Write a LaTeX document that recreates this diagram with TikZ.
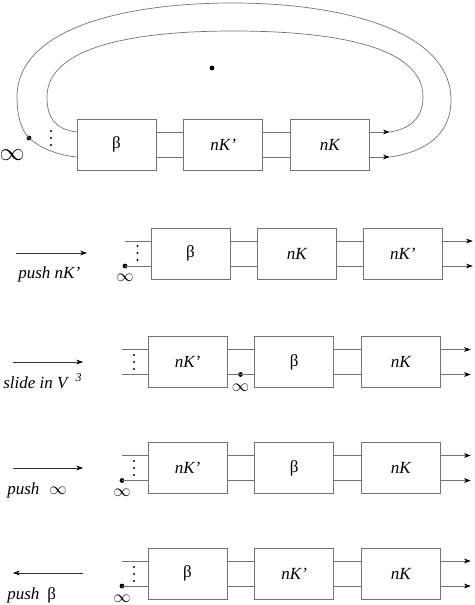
\documentclass[tikz,border=0pt]{standalone}
\usepackage{fontspec}
\setmainfont{Liberation Serif}
\usetikzlibrary{arrows.meta,positioning}

\begin{document}
\begin{tikzpicture}[
  x=1pt,y=-1pt,
  font=\fontsize{17}{20}\selectfont,
  line width=0.7pt,
  >={Stealth[length=2.4mm,width=1.7mm,color=black]},
  blk/.style={draw=black!55,minimum width=79pt,minimum height=51pt,inner sep=0pt},
  wire/.style={draw=black!55},
  act/.style={->,draw=black!80},
  pin/.style={circle,fill=black,inner sep=0pt,minimum size=4.8pt},
  tick/.style={circle,fill=black,inner sep=0pt,minimum size=2.2pt},
  inf/.style={inner sep=0pt,font=\fontsize{17}{17}\selectfont},
  lbl/.style={anchor=base west,inner sep=0pt,font=\fontsize{17}{20}\selectfont\itshape}
]
\useasboundingbox (0,0) rectangle (474,605);

% ===== Closed braid =====
\node[blk] (b0) at (116.5,144.5) {β};
\node[blk,right=27pt of b0] (kp0) {\itshape nK'};
\node[blk,right=27pt of kp0] (k0) {\itshape nK};
\node[pin] (p0) at (29,138) {};
\node[pin] (c0) at (212,68) {};
\node[inf,font=\fontsize{24}{24}\selectfont] (i0) at (12,155) {$\infty$};
\foreach \y in {131,138,145} \node[tick] (v0-\y) at (51,\y) {};

\draw[wire] ([yshift=12.5pt]b0.east) -- ([yshift=12.5pt]kp0.west);
\draw[wire] ([yshift=-12.5pt]b0.east) -- ([yshift=-12.5pt]kp0.west);
\draw[wire] ([yshift=12.5pt]kp0.east) -- ([yshift=12.5pt]k0.west);
\draw[wire] ([yshift=-12.5pt]kp0.east) -- ([yshift=-12.5pt]k0.west);
\draw[wire,->] ([yshift=12.5pt]k0.east) -- ++(20,0) coordinate (ti);
\draw[wire,->] ([yshift=-12.5pt]k0.east) -- ++(20,0) coordinate (to);

% inner strand
\draw[wire] (ti) .. controls (410,129) and (423,118) .. (423,97)
  .. controls (423,45) and (330,31) .. (233,31)
  .. controls (140,31) and (47,45) .. (47,97)
  .. controls (47,118) and (55,129) .. ([yshift=12.5pt]b0.west);
% outer strand
\draw[wire] (to) .. controls (425,152) and (451,135) .. (451,100)
  .. controls (451,30) and (340,3) .. (233,3)
  .. controls (120,3) and (17,30) .. (17,97)
  .. controls (17,115) and (21,130) .. (p0.center)
  .. controls (40,148) and (57,155) .. ([yshift=-12.5pt]b0.west);

% ===== push nK' =====
\coordinate (a2s) at (16,253);
\coordinate (a2e) at (87,253);
\draw[act] (a2s) -- (a2e);
\node[lbl] (l2) at (18,278) {push nK'};

\node[blk] (b2) at (190.5,253.5) {β};
\node[blk,right=26.5pt of b2] (k2) {\itshape nK};
\node[blk,right=26.5pt of k2] (kp2) {\itshape nK'};
\coordinate (s2) at (125,241);
\node[pin] (p2) at (125,266) {};
\node[inf] (i2) at (125,278) {$\infty$};
\foreach \y in {246,253,260} \node[tick] (v2-\y) at (137.5,\y) {};

\draw[wire] (s2) -- ([yshift=12.5pt]b2.west);
\draw[wire] (p2.center) -- ([yshift=-12.5pt]b2.west);
\draw[wire] ([yshift=12.5pt]b2.east) -- ([yshift=12.5pt]k2.west);
\draw[wire] ([yshift=-12.5pt]b2.east) -- ([yshift=-12.5pt]k2.west);
\draw[wire] ([yshift=12.5pt]k2.east) -- ([yshift=12.5pt]kp2.west);
\draw[wire] ([yshift=-12.5pt]k2.east) -- ([yshift=-12.5pt]kp2.west);
\draw[wire,->] ([yshift=12.5pt]kp2.east) -- ++(30,0);
\draw[wire,->] ([yshift=-12.5pt]kp2.east) -- ++(30,0);

% ===== slide in V^3 =====
\coordinate (a3s) at (13,362);
\coordinate (a3e) at (83,362);
\draw[act] (a3s) -- (a3e);
\node[lbl] (l3) at (3,388) {slide in V\hspace{8pt}\textsuperscript{3}};

\node[blk] (kp3) at (187.5,362) {\itshape nK'};
\node[blk,right=27pt of kp3] (b3) {β};
\node[blk,right=27pt of b3] (k3) {\itshape nK};
\coordinate (s3t) at (122,349.5);
\coordinate (s3b) at (122,374.5);
\node[pin] (p3) at (240.5,374.5) {};
\node[inf] (i3) at (240.5,388) {$\infty$};
\foreach \y in {355,362,369} \node[tick] (v3-\y) at (134,\y) {};

\draw[wire] (s3t) -- ([yshift=12.5pt]kp3.west);
\draw[wire] (s3b) -- ([yshift=-12.5pt]kp3.west);
\draw[wire] ([yshift=12.5pt]kp3.east) -- ([yshift=12.5pt]b3.west);
\draw[wire] ([yshift=-12.5pt]kp3.east) -- ([yshift=-12.5pt]b3.west);
\draw[wire] ([yshift=12.5pt]b3.east) -- ([yshift=12.5pt]k3.west);
\draw[wire] ([yshift=-12.5pt]b3.east) -- ([yshift=-12.5pt]k3.west);
\draw[wire,->] ([yshift=12.5pt]k3.east) -- ++(30,0);
\draw[wire,->] ([yshift=-12.5pt]k3.east) -- ++(30,0);

% ===== push infinity =====
\coordinate (a4s) at (13,468);
\coordinate (a4e) at (83,468);
\draw[act] (a4s) -- (a4e);
\node[lbl] (l4) at (7,494) {push\hspace{10pt}{\upshape\fontsize{17}{17}\selectfont$\infty$}};

\node[blk] (kp4) at (187.5,468) {\itshape nK'};
\node[blk,right=27pt of kp4] (b4) {β};
\node[blk,right=27pt of b4] (k4) {\itshape nK};
\coordinate (s4) at (122,455.5);
\node[pin] (p4) at (122,480.5) {};
\node[inf] (i4) at (122,493) {$\infty$};
\foreach \y in {461,468,475} \node[tick] (v4-\y) at (134,\y) {};

\draw[wire] (s4) -- ([yshift=12.5pt]kp4.west);
\draw[wire] (p4.center) -- ([yshift=-12.5pt]kp4.west);
\draw[wire] ([yshift=12.5pt]kp4.east) -- ([yshift=12.5pt]b4.west);
\draw[wire] ([yshift=-12.5pt]kp4.east) -- ([yshift=-12.5pt]b4.west);
\draw[wire] ([yshift=12.5pt]b4.east) -- ([yshift=12.5pt]k4.west);
\draw[wire] ([yshift=-12.5pt]b4.east) -- ([yshift=-12.5pt]k4.west);
\draw[wire,->] ([yshift=12.5pt]k4.east) -- ++(30,0);
\draw[wire,->] ([yshift=-12.5pt]k4.east) -- ++(30,0);

% ===== push beta =====
\coordinate (a5s) at (83,573);
\coordinate (a5e) at (13,573);
\draw[act] (a5s) -- (a5e);
\node[lbl] (l5) at (7,599) {push\hspace{8pt}{\upshape β}};

\node[blk] (b5) at (187.5,573.5) {β};
\node[blk,right=27pt of b5] (kp5) {\itshape nK'};
\node[blk,right=27pt of kp5] (k5) {\itshape nK};
\coordinate (s5) at (122,561);
\node[pin] (p5) at (122,586) {};
\node[inf] (i5) at (122,599) {$\infty$};
\foreach \y in {567,574,581} \node[tick] (v5-\y) at (134,\y) {};

\draw[wire] (s5) -- ([yshift=12.5pt]b5.west);
\draw[wire] (p5.center) -- ([yshift=-12.5pt]b5.west);
\draw[wire] ([yshift=12.5pt]b5.east) -- ([yshift=12.5pt]kp5.west);
\draw[wire] ([yshift=-12.5pt]b5.east) -- ([yshift=-12.5pt]kp5.west);
\draw[wire] ([yshift=12.5pt]kp5.east) -- ([yshift=12.5pt]k5.west);
\draw[wire] ([yshift=-12.5pt]kp5.east) -- ([yshift=-12.5pt]k5.west);
\draw[wire,->] ([yshift=12.5pt]k5.east) -- ++(30,0);
\draw[wire,->] ([yshift=-12.5pt]k5.east) -- ++(30,0);

\end{tikzpicture}
\end{document}
